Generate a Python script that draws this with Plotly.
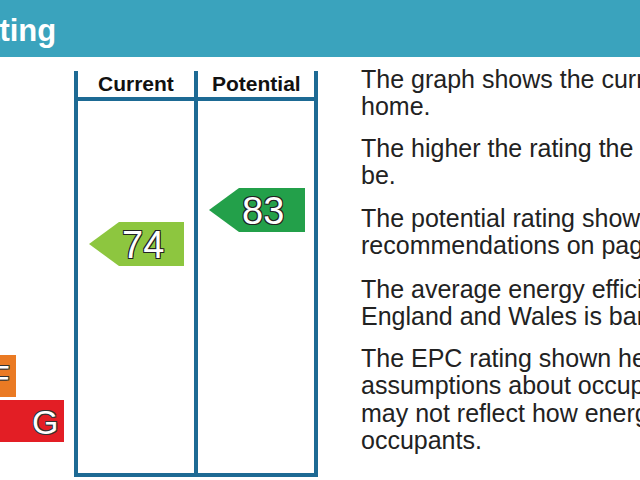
import plotly.graph_objects as go

title_text = "Energy Efficiency Rating"
columns = ["Current", "Potential"]
ratings = [74, 83]
rating_colors = ["#8dc63f", "#23a04a"]
bands = ["F", "G"]
band_colors = ["#ea7a23", "#e31e25"]
band_widths = [16, 64]
band_tops = [355, 400]
paragraphs = [
    ["The graph shows the current energy efficiency of your", "home."],
    ["The higher the rating the lower your fuel bills are likely to", "be."],
    ["The potential rating shows the effect of undertaking the", "recommendations on page 3."],
    ["The average energy efficiency rating for a dwelling in", "England and Wales is band D (rating 60)."],
    ["The EPC rating shown here is based on standard", "assumptions about occupancy and energy use and",
     "may not reflect how energy is consumed by individual", "occupants."],
]
para_tops = [79, 148, 218, 289, 358]

def rating_y(r):
    return 244 - (r - 74) * (34 / 9)

fig = go.Figure()
shapes = []
ann = []
BLUE = "#1d6a94"
shapes.append(dict(type="rect", x0=-10, x1=660, y0=-10, y1=57, fillcolor="#3aa3bd", line_width=0, layer="below"))
ann.append(dict(x=58, y=30, text=title_text, showarrow=False, xanchor="right", yanchor="middle",
                font=dict(family="Arial", size=31, color="white", weight="bold")))
for x in [76, 196, 316]:
    shapes.append(dict(type="line", x0=x, x1=x, y0=71, y1=477, line=dict(color=BLUE, width=4)))
shapes.append(dict(type="line", x0=76, x1=316, y0=99, y1=99, line=dict(color=BLUE, width=4)))
shapes.append(dict(type="line", x0=76, x1=316, y0=475, y1=475, line=dict(color=BLUE, width=4)))
for cx, c in zip([136, 256], columns):
    ann.append(dict(x=cx, y=83, text=c, showarrow=False, font=dict(family="Arial", size=21, color="#111", weight="bold")))
for b, col, w, t in zip(bands, band_colors, band_widths, band_tops):
    shapes.append(dict(type="rect", x0=-10, x1=w, y0=t, y1=t + 42, fillcolor=col, line_width=0))
    ann.append(dict(x=w - 4, y=t + 22, text=b, showarrow=False, xanchor="right",
                    font=dict(family="Arial", size=34, color="white",
                              shadow="1px 1px 0 #333, -1px -1px 0 #333, 1px -1px 0 #333, -1px 1px 0 #333")))
for i, (r, col) in enumerate(zip(ratings, rating_colors)):
    yc = rating_y(r)
    x0 = 89 + i * 120
    x1 = 184 + i * 121
    h = 22
    path = f"M{x0},{yc} L{x0+30},{yc-h} L{x1},{yc-h} L{x1},{yc+h} L{x0+30},{yc+h} Z"
    shapes.append(dict(type="path", path=path, fillcolor=col, line_width=0))
    ann.append(dict(x=(x0 + 30 + x1) / 2 - 9, y=yc + 1, text=str(r), showarrow=False,
                    font=dict(family="Arial", size=38, color="white",
                              shadow="1px 1px 0 #222, -1px -1px 0 #222, 1px -1px 0 #222, -1px 1px 0 #222")))
for lines, top in zip(paragraphs, para_tops):
    for j, ln in enumerate(lines):
        ann.append(dict(x=359, y=top + j * 27.3, text=ln, showarrow=False, xanchor="left", yanchor="middle",
                        font=dict(family="Arial", size=25, color="#222")))

fig.update_layout(width=640, height=480, margin=dict(l=0, r=0, t=0, b=0),
                  paper_bgcolor="white", plot_bgcolor="white",
                  xaxis=dict(range=[0, 640], visible=False, fixedrange=True),
                  yaxis=dict(range=[480, 0], visible=False, fixedrange=True),
                  shapes=shapes, annotations=ann, showlegend=False)
fig.write_html("out.html", config={"displayModeBar": False},
               post_script="document.body.style.margin='0';document.body.style.overflow='hidden';")
